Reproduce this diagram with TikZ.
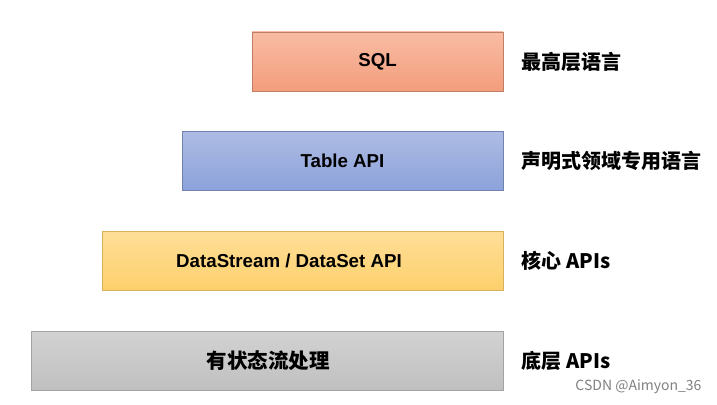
\documentclass[tikz,border=0pt]{standalone}
\usepackage{fontspec}
\setmainfont{Liberation Sans}
\newfontfamily\cjk{Noto Sans CJK SC}
\begin{document}
\begin{tikzpicture}[x=1pt,y=-1pt,
  lab/.style={anchor=west, font=\cjk\bfseries\fontsize{20}{22}\selectfont},
  btxt/.style={font=\bfseries\fontsize{18.7}{20}\selectfont}]
\useasboundingbox (0,0) rectangle (717,404);
\definecolor{oT}{HTML}{F8BCA4}\definecolor{oB}{HTML}{F39D7C}
\definecolor{bT}{HTML}{AEBCE4}\definecolor{bB}{HTML}{8CA2DA}
\definecolor{yT}{HTML}{FEDE98}\definecolor{yB}{HTML}{FDD06C}
\definecolor{gT}{HTML}{D2D2D2}\definecolor{gB}{HTML}{C0C0C0}
\shade[top color=oT,bottom color=oB] (252,32) rectangle (503,91);
\draw[draw=oB!80!black,line width=0.6pt] (252,32) rectangle (503,91);
\node[btxt] (sql) at (377.5,61.5) {SQL};
\shade[top color=bT,bottom color=bB] (182,131) rectangle (503,190);
\draw[draw=bB!80!black,line width=0.6pt] (182,131) rectangle (503,190);
\node[btxt] (tab) at (342.5,160.5) {Table API};
\shade[top color=yT,bottom color=yB] (102,231) rectangle (503,290);
\draw[draw=yB!85!black,line width=0.6pt] (102,231) rectangle (503,290);
\node[btxt] (ds) at (289,260.5) {DataStream / DataSet API};
\shade[top color=gT,bottom color=gB] (31,331) rectangle (503,390);
\draw[draw=gB!85!black,line width=0.6pt] (31,331) rectangle (503,390);
\node[font=\cjk\bfseries\fontsize{20.5}{22}\selectfont] (sp) at (268,360.5) {有状态流处理};
\node[lab] (l1) at (518,61.5) {最高层语言};
\node[lab] (l2) at (518,160.5) {声明式领域专用语言};
\node[lab] (l3) at (518,260.5) {核心 APIs};
\node[lab] (l4) at (518,360.5) {底层 APIs};
\node[anchor=east,font=\cjk\fontsize{14}{16}\selectfont,text=gray] (wm) at (705,387) {CSDN @Aimyon\_36};
\end{tikzpicture}
\end{document}
